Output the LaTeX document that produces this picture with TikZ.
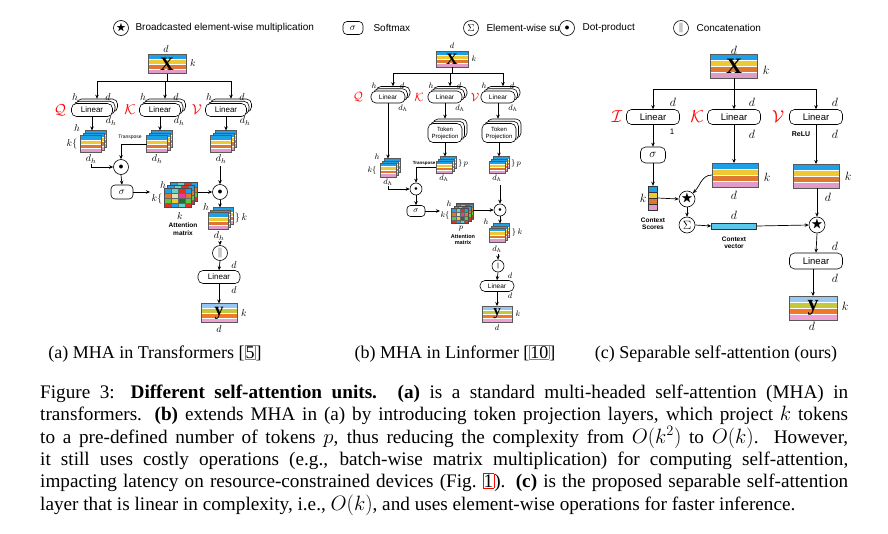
\documentclass[tikz,border=0pt]{standalone}
\usepackage{amsmath,amssymb}
\usepackage{fontspec}
\setmainfont{Liberation Serif}
\newfontfamily\sansf{Liberation Sans}
\usetikzlibrary{arrows.meta,calc}
\definecolor{XA}{RGB}{30,160,230}\definecolor{XB}{RGB}{240,200,50}
\definecolor{XC}{RGB}{220,120,50}\definecolor{XD}{RGB}{225,155,200}
\definecolor{YA}{RGB}{150,200,240}\definecolor{YB}{RGB}{195,200,60}
\definecolor{YC}{RGB}{240,120,40}\definecolor{YD}{RGB}{240,160,210}
\definecolor{cg}{RGB}{90,200,60}\definecolor{cte}{RGB}{100,210,200}
\definecolor{cpk}{RGB}{230,60,160}\definecolor{cdg}{RGB}{40,110,60}
\definecolor{crd}{RGB}{220,50,40}\definecolor{cbg}{RGB}{230,220,180}
\definecolor{ctx}{RGB}{90,200,235}
\definecolor{refg}{RGB}{0,220,0}
\newcommand\tens[6]{%
 \node[inner sep=0,outer sep=0,minimum width=#4pt,minimum height=#5pt] (#1) at (#2,#3) {};
 \begin{scope}[shift={(#1.north west)}]
  \fill[#6A] (0,0) rectangle (#4,#5/4);
  \fill[#6B] (0,#5/4) rectangle (#4,#5/2);
  \fill[#6C] (0,#5/2) rectangle (#4,3*#5/4);
  \fill[#6D] (0,3*#5/4) rectangle (#4,#5);
  \draw[white,line width=0.5pt] (0,#5/4)--(#4,#5/4) (0,#5/2)--(#4,#5/2) (0,3*#5/4)--(#4,3*#5/4);
  \draw[black!65,line width=0.5pt] (0,0) rectangle (#4,#5);
 \end{scope}}
\newcommand\stk[7]{%
 \tens{#1b}{#2+2*#7}{#3-2*#7}{#4}{#5}{#6}%
 \tens{#1a}{#2+#7}{#3-#7}{#4}{#5}{#6}%
 \tens{#1}{#2}{#3}{#4}{#5}{#6}}
\newcommand\attn[5]{%
 \node[inner sep=0,outer sep=0,minimum width=#4pt,minimum height=#5pt] (#1) at (#2,#3) {};
 \begin{scope}[shift={(#1.north west)}]
  \foreach \i in {0,...,3}{\foreach \j in {0,...,3}{%
   \pgfmathparse{{"XA","cg","cpk","cte","XB","XC","crd","cdg","cbg"}[mod(\i*5+\j*3,9)]}%
   \edef\cc{\pgfmathresult}%
   \fill[\cc,draw=black!60,line width=0.3pt] (\j*#4/4,\i*#5/4) rectangle ++(#4/4,#5/4);}}
  \draw[black!70,line width=0.5pt] (0,0) rectangle (#4,#5);
 \end{scope}}
\newcommand\attst[6]{%
 \attn{#1b}{#2+2*#6}{#3-2*#6}{#4}{#5}\attn{#1a}{#2+#6}{#3-#6}{#4}{#5}\attn{#1}{#2}{#3}{#4}{#5}}
\newcommand\linst[7]{%
 \node[lin,minimum width=#4pt,minimum height=#5pt,#7] (#1b) at (#2+5,#3-4.5) {};
 \node[lin,minimum width=#4pt,minimum height=#5pt,#7] (#1a) at (#2+2.5,#3-2.25) {};
 \node[lin,minimum width=#4pt,minimum height=#5pt,#7] (#1) at (#2,#3) {#6};}
\begin{document}
\begin{tikzpicture}[x=1pt,y=-1pt,
 lin/.style={draw,rounded corners=5pt,fill=white,inner sep=1pt,align=center,line width=0.6pt},
 op/.style={draw,circle,fill=white,inner sep=0,line width=0.6pt},
 arr/.style={-{Stealth[length=4pt,width=3.5pt]},line width=0.7pt},
 ln/.style={line width=0.7pt},
 lb/.style={inner sep=0.5pt},
 sm/.style={font=\sansf\fontsize{10}{11}\selectfont},
 bl/.style={font=\sansf\bfseries\fontsize{6.5}{7.5}\selectfont,align=center,inner sep=0}]
\useasboundingbox (0,0) rectangle (888,533);
% ---------------- legend
\node[op,minimum size=15pt] (L1) at (121,28) {$\bigstar$};
\node[sm,anchor=west] (L1t) at (132,28) {Broadcasted element-wise multiplication};
\node[lin,rounded corners=4pt,minimum width=20pt,minimum height=13pt] (L2) at (353,28) {$\sigma$};
\node[sm,anchor=west] (L2t) at (370,28) {Softmax};
\node[op,minimum size=15pt] (L3) at (471,28) {$\Sigma$};
\node[sm,anchor=west] (L3t) at (483,28) {Element-wise sum};
\node[op,minimum size=15pt] (L4) at (567,28) {$\bullet$};
\node[sm,anchor=west] (L4t) at (579,28) {Dot-product};
\node[op,minimum size=15pt] (L5) at (681,28) {$\|$};
\node[sm,anchor=west] (L5t) at (693,28) {Concatenation};
% ================= panel (a)
\begin{scope}[font=\fontsize{10}{11}\selectfont]
\tens{aX}{167}{64}{38}{19}{X}
\node[lb] (aXt) at (aX) {\fontsize{19}{19}\selectfont$\mathbf{X}$};
\node[lb] (aXd) at (166,49) {$d$};
\node[lb] (aXk) at (193,63) {$k$};
\coordinate (aS) at (167,81);
\linst{aQl}{92}{110}{41}{13}{Linear}{font=\sansf\fontsize{8}{9}\selectfont}
\linst{aKl}{160}{110}{41}{13}{Linear}{font=\sansf\fontsize{8}{9}\selectfont}
\linst{aVl}{226}{110}{41}{13}{Linear}{font=\sansf\fontsize{8}{9}\selectfont}
\draw[ln] (aX.south) -- (aS);
\draw[arr] (aS) -| (aQlb.north);
\draw[arr] (aS) -- (aS -| aKlb.north) -- (aKlb.north);
\draw[arr] (aS) -| (aVlb.north);
\node[lb,red] (aQ) at (60,110) {\fontsize{15}{15}\selectfont$\mathcal{Q}$};
\node[lb,red] (aK) at (130,110) {\fontsize{15}{15}\selectfont$\mathcal{K}$};
\node[lb,red] (aV) at (197,110) {\fontsize{15}{15}\selectfont$\mathcal{V}$};
\foreach \n/\x in {Q/92,K/160,V/226}{
 \node[lb] (ah\n) at (\x-17,97) {$h$};
 \node[lb] (ad\n) at (\x+16,97) {$d$};
 \node[lb] (adh\n) at (\x+19,121) {$d_h$};}
\stk{aQt}{91}{144}{21}{17}{X}{2.5}
\stk{aKt}{157}{144}{21}{17}{X}{2.5}
\stk{aVt}{221}{144}{21}{17}{X}{2.5}
\draw[arr] (aQl.south) -- (aQl.south |- aQtb.north);
\draw[arr] (aKl.south) -- (aKl.south |- aKtb.north);
\draw[arr] (aVl.south) -- (aVl.south |- aVtb.north);
\node[lb] (ahq2) at (77,128) {$h$};
\node[lb] (akq) at (72,144) {$k\{$};
\node[lb] (adq) at (91,159) {$d_h$};
\node[lb] (adk) at (157,159) {$d_h$};
\node[lb] (adv) at (221,159) {$d_h$};
\node[op,minimum size=15pt] (aD1) at (121,167) {$\bullet$};
\node[lin,rounded corners=4pt,minimum width=22pt,minimum height=14pt] (aSg) at (122,192) {$\sigma$};
\coordinate (aq0) at (91,164);
\draw[arr] (aq0) |- (aD1.west);
\draw[arr] (aKt.west) -| (aD1.north);
\node[font=\sansf\fontsize{5}{5}\selectfont,inner sep=0] (aTr) at (130,137) {Transpose};
\draw[arr] (aD1.south) -- (aSg.north);
\attst{aA}{178}{198}{27}{19}{3}
\coordinate (aAin) at (150,192);
\draw[arr] (aSg.east) -- (aAin);
\node[lb] (ahA) at (163,185) {$h$};
\node[lb] (akA) at (157,199) {$k\{$};
\node[lb] (akA2) at (180,216) {$k$};
\node[bl] (aAt) at (183,229) {Attention\\matrix};
\node[op,minimum size=15pt] (aD2) at (220,192) {$\bullet$};
\draw[arr] (aAb.east |- aD2) -- (aD2.west);
\coordinate (av0) at (220,166);
\draw[arr] (av0) -- (aD2.north);
\stk{aO}{218}{221}{20}{17}{X}{2.5}
\draw[arr] (aD2.south) -- (aD2.south |- aOb.north);
\node[lb] (ahO) at (206,207) {$h$};
\node[lb] (akO) at (241,218) {$\}\,k$};
\node[lb] (adO) at (219,236) {$d_h$};
\node[op,minimum size=15pt] (aC) at (220,253) {$\|$};
\coordinate (ao0) at (220,241);
\draw[arr] (ao0) -- (aC.north);
\node[lin,minimum width=42pt,minimum height=13pt,font=\sansf\fontsize{8}{9}\selectfont] (aL) at (219,277) {Linear};
\draw[arr] (aC.south) -- (aL.north);
\node[lb] (aLd1) at (234,265) {$d$};
\node[lb] (aLd2) at (234,290) {$d$};
\tens{aY}{219}{313}{36}{19}{Y}
\node[lb] (aYt) at (aY) {\fontsize{18}{18}\selectfont$\mathbf{y}$};
\draw[arr] (aL.south) -- (aY.north);
\node[lb] (aYk) at (244,313) {$k$};
\node[lb] (aYd) at (219,329) {$d$};
\end{scope}
% ================= panel (b)
\begin{scope}[font=\fontsize{8.5}{9}\selectfont]
\tens{bX}{452}{59}{32}{16}{X}
\node[lb] (bXt) at (bX) {\fontsize{16}{16}\selectfont$\mathbf{X}$};
\node[lb] (bXd) at (452,46) {$d$};
\node[lb] (bXk) at (474,59) {$k$};
\coordinate (bS) at (452,73);
\linst{bQl}{388}{97}{34}{12}{Linear}{font=\sansf\fontsize{6.5}{7}\selectfont}
\linst{bKl}{445}{97}{34}{12}{Linear}{font=\sansf\fontsize{6.5}{7}\selectfont}
\linst{bVl}{498}{97}{34}{12}{Linear}{font=\sansf\fontsize{6.5}{7}\selectfont}
\draw[ln] (bX.south) -- (bS);
\draw[arr] (bS) -| (bQlb.north);
\draw[arr] (bS) -- (bS -| bKlb.north) -- (bKlb.north);
\draw[arr] (bS) -| (bVlb.north);
\node[lb,red] (bQ) at (358,97) {\fontsize{13}{13}\selectfont$\mathcal{Q}$};
\node[lb,red] (bK) at (419,97) {\fontsize{13}{13}\selectfont$\mathcal{K}$};
\node[lb,red] (bV) at (475,97) {\fontsize{13}{13}\selectfont$\mathcal{V}$};
\foreach \n/\x in {Q/388,K/445,V/498}{
 \node[lb] (bh\n) at (\x-14,86) {$h$};
 \node[lb] (bd\n) at (\x+14,86) {$d$};
 \node[lb] (bdh\n) at (\x+15,108) {$d_h$};}
\linst{bTK}{445}{133}{34}{19}{Token\\Projection}{font=\sansf\fontsize{6}{7}\selectfont}
\linst{bTV}{499}{133}{34}{19}{Token\\Projection}{font=\sansf\fontsize{6}{7}\selectfont}
\draw[arr] (bKl.south) -- (bKl.south |- bTKb.north);
\draw[arr] (bVl.south) -- (bVl.south |- bTVb.north);
\stk{bQt}{388}{170}{16}{14}{X}{2.2}
\stk{bKt}{444}{167}{16}{12}{X}{2.2}
\stk{bVt}{497}{167}{16}{12}{X}{2.2}
\draw[arr] (bQl.south) -- (bQl.south |- bQtb.north);
\draw[arr] (bTK.south) -- (bTK.south |- bKtb.north);
\draw[arr] (bTV.south) -- (bTV.south |- bVtb.north);
\node[lb] (bhq) at (377,157) {$h$};
\node[lb] (bkq) at (372,170) {$k\{$};
\node[lb] (bdq) at (388,182) {$d_h$};
\node[lb] (bpk) at (463,163) {$\}\,p$};
\node[lb] (bdk) at (444,178) {$d_h$};
\node[lb] (bpv) at (516,163) {$\}\,p$};
\node[lb] (bdv) at (497,178) {$d_h$};
\node[op,minimum size=12pt] (bD1) at (416,189) {$\scriptstyle\bullet$};
\node[lin,rounded corners=3.5pt,minimum width=18pt,minimum height=11pt] (bSg) at (416,211) {$\sigma$};
\coordinate (bq0) at (388,186);
\draw[arr] (bq0) |- (bD1.west);
\draw[arr] (bKt.west) -| (bD1.north);
\node[font=\sansf\bfseries\fontsize{4.5}{5}\selectfont,inner sep=0] (bTr) at (424,163) {Transpose};
\draw[arr] (bD1.south) -- (bSg.north);
\attst{bA}{460}{216}{17}{15}{2.4}
\coordinate (bAin) at (440,211);
\draw[arr] (bSg.east) -- (bAin);
\node[lb] (bhA) at (449,204) {$h$};
\node[lb] (bkA) at (445,215) {$k\{$};
\node[lb] (bpA) at (461,229) {$p$};
\node[bl,font=\sansf\bfseries\fontsize{5.5}{6}\selectfont] (bAt) at (463,240) {Attention\\matrix};
\node[op,minimum size=12pt] (bD2) at (500,210) {$\scriptstyle\bullet$};
\draw[arr] (bAb.east |- bD2) -- (bD2.west);
\coordinate (bv0) at (500,185);
\draw[arr] (bv0) -- (bD2.north);
\stk{bO}{497}{235}{16}{14}{X}{2.2}
\draw[arr] (bD2.south) -- (bD2.south |- bOb.north);
\node[lb] (bhO) at (486,222) {$h$};
\node[lb] (bkO) at (517,232) {$\}\,k$};
\node[lb] (bdO) at (497,249) {$d_h$};
\node[op,minimum size=12pt] (bC) at (498,266) {$\scriptstyle\|$};
\coordinate (bo0) at (498,254);
\draw[arr] (bo0) -- (bC.north);
\node[lin,minimum width=34pt,minimum height=11pt,font=\sansf\fontsize{6.5}{7}\selectfont] (bL) at (497,286) {Linear};
\draw[arr] (bC.south) -- (bL.north);
\node[lb] (bLd1) at (510,276) {$d$};
\node[lb] (bLd2) at (510,296) {$d$};
\tens{bY}{497}{314}{30}{16}{Y}
\node[lb] (bYt) at (bY) {\fontsize{15}{15}\selectfont$\mathbf{y}$};
\draw[arr] (bL.south) -- (bY.north);
\node[lb] (bYk) at (518,314) {$k$};
\node[lb] (bYd) at (497,328) {$d$};
\end{scope}
% ================= panel (c)
\begin{scope}[font=\fontsize{12}{13}\selectfont]
\tens{cX}{734}{66}{47}{24}{X}
\node[lb] (cXt) at (cX) {\fontsize{22}{22}\selectfont$\mathbf{X}$};
\node[lb] (cXd) at (734,50) {$d$};
\node[lb] (cXk) at (766,70) {$k$};
\coordinate (cS) at (734,89);
\node[lin,minimum width=53pt,minimum height=15pt,font=\sansf\fontsize{9.5}{10}\selectfont] (cIl) at (653,117) {Linear};
\node[lin,minimum width=53pt,minimum height=15pt,font=\sansf\fontsize{9.5}{10}\selectfont] (cKl) at (734,117) {Linear};
\node[lin,minimum width=53pt,minimum height=15pt,font=\sansf\fontsize{9.5}{10}\selectfont] (cVl) at (816,117) {Linear};
\draw[arr] (cX.south) -- (cKl.north);
\draw[arr] (cS) -| (cIl.north);
\draw[arr] (cS) -| (cVl.north);
\node[lb,red] (cI) at (617,117) {\fontsize{17}{17}\selectfont$\mathcal{I}$};
\node[lb,red] (cK) at (697,117) {\fontsize{17}{17}\selectfont$\mathcal{K}$};
\node[lb,red] (cV) at (778,117) {\fontsize{17}{17}\selectfont$\mathcal{V}$};
\node[lb] (cdI) at (673,102) {$d$};
\node[lb] (cdK) at (752,102) {$d$};
\node[lb] (cdV) at (835,102) {$d$};
\node[lb,font=\sansf\fontsize{8}{9}\selectfont] (c1) at (672,132) {1};
\node[lb] (cdK2) at (752,134) {$d$};
\node[bl,font=\sansf\bfseries\fontsize{7}{8}\selectfont] (cRe) at (801,134) {ReLU};
\node[lb] (cdV2) at (835,134) {$d$};
\node[lin,rounded corners=5pt,minimum width=25pt,minimum height=16pt] (cSg) at (653,155) {$\sigma$};
\draw[arr] (cIl.south) -- (cSg.north);
% context scores
\node[inner sep=0,minimum width=9pt,minimum height=24pt] (cCs) at (653,198) {};
\begin{scope}[shift={(cCs.north west)}]
 \fill[XA] (0,0) rectangle (9,6);\fill[XB] (0,6) rectangle (9,12);
 \fill[XC] (0,12) rectangle (9,18);\fill[XD] (0,18) rectangle (9,24);
 \draw[black!80,line width=0.5pt] (0,0) rectangle (9,24) (0,6)--(9,6) (0,12)--(9,12) (0,18)--(9,18);
\end{scope}
\draw[arr] (cSg.south) -- (cCs.north);
\node[lb] (cCk) at (643,198) {$k$};
\node[bl] (cCst) at (653,224) {Context\\Scores};
\tens{cKt}{735}{175}{46}{24}{X}
\draw[arr] (cKl.south) -- (cKl.south |- cKt.north);
\node[lb] (cKk) at (767,177) {$k$};
\node[lb] (cKd) at (734,195) {$d$};
\tens{cVt}{816}{176}{46}{24}{X}
\draw[arr] (cVl.south) -- (cVl.south |- cVt.north);
\node[lb] (cVk) at (848,176) {$k$};
\node[lb] (cVd) at (828,197) {$d$};
\node[op,minimum size=16pt] (cM1) at (687,199) {$\bigstar$};
\draw[arr] (cCs.east) -- (cM1.west);
\draw[arr] (cKt.west) to[out=180,in=45] (cM1.north east);
\node[op,minimum size=16pt] (cSum) at (687,225) {$\Sigma$};
\draw[arr] (cM1.south) -- (cSum.north);
\node[draw=black!80,fill=ctx,inner sep=0,minimum width=45pt,minimum height=6pt,line width=0.6pt] (cCv) at (734,226) {};
\draw[arr] (cSum.east) -- (cCv.west);
\node[lb] (cCvd) at (734,215) {$d$};
\node[bl] (cCvt) at (734,243) {Context\\vector};
\node[op,minimum size=16pt] (cM2) at (817,225) {$\bigstar$};
\draw[arr] (cCv.east) -- (cM2.west);
\draw[arr] (cVt.south -| cM2) -- (cM2.north);
\node[lin,minimum width=53pt,minimum height=16pt,font=\sansf\fontsize{9.5}{10}\selectfont] (cL) at (816,261) {Linear};
\draw[arr] (cM2.south) -- (cL.north);
\node[lb] (cLd1) at (835,246) {$d$};
\node[lb] (cLd2) at (835,278) {$d$};
\tens{cY}{813}{308}{48}{24}{Y}
\node[lb] (cYt) at (cY) {\fontsize{22}{22}\selectfont$\mathbf{y}$};
\draw[arr] (cL.south -| cY) -- (cY.north);
\node[lb] (cYk) at (845,306) {$k$};
\node[lb] (cYd) at (812,326) {$d$};
\end{scope}
% ================= captions
\setlength\fboxsep{0.6pt}
\begin{scope}[font=\fontsize{18}{20}\selectfont]
\node[anchor=base,inner sep=0] (capa) at (155,358) {(a) MHA in Transformers [\fcolorbox{refg}{white}{5}]};
\node[anchor=base,inner sep=0] (capb) at (455,358) {(b) MHA in Linformer [\fcolorbox{refg}{white}{10}]};
\node[anchor=base,inner sep=0] (capc) at (716,358) {(c) Separable self-attention (ours)};
\end{scope}
\begin{scope}[font=\fontsize{19.2}{21}\selectfont]
\node[anchor=base west,inner sep=0] (t1) at (40,398) {\makebox[808pt][s]{Figure 3: \textbf{Different self-attention units. (a)} is a standard multi-headed self-attention (MHA) in}};
\node[anchor=base west,inner sep=0] (t2) at (40,420) {\makebox[808pt][s]{transformers. \textbf{(b)} extends MHA in (a) by introducing token projection layers, which project $k$ tokens}};
\node[anchor=base west,inner sep=0] (t3) at (40,443) {\makebox[808pt][s]{to a pre-defined number of tokens $p$, thus reducing the complexity from $O(k^2)$ to $O(k)$. However,}};
\node[anchor=base west,inner sep=0] (t4) at (40,465) {\makebox[808pt][s]{it still uses costly operations (e.g., batch-wise matrix multiplication) for computing self-attention,}};
\node[anchor=base west,inner sep=0] (t5) at (40,487) {\makebox[808pt][s]{impacting latency on resource-constrained devices (Fig.~\fcolorbox{red}{white}{1}). \textbf{(c)} is the proposed separable self-attention}};
\node[anchor=base west,inner sep=0] (t6) at (40,510) {layer that is linear in complexity, i.e., $O(k)$, and uses element-wise operations for faster inference.};
\end{scope}
\end{tikzpicture}
\end{document}
